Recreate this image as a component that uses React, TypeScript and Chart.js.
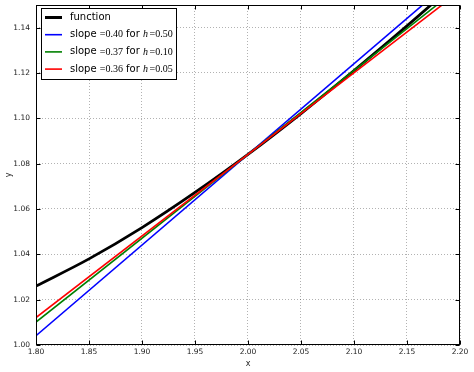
import React, { useEffect, useRef } from "react";
import { Chart, registerables } from "chart.js";

Chart.register(...registerables);

// ---- data ----
const xTicks = [1.8, 1.85, 1.9, 1.95, 2.0, 2.05, 2.1, 2.15, 2.2];
const yTicks = [1.0, 1.02, 1.04, 1.06, 1.08, 1.1, 1.12, 1.14];

const funcX = [1.8, 1.85, 1.9, 1.95, 2.0, 2.05, 2.1, 2.15, 2.2];
const funcY = [1.026, 1.038, 1.0518, 1.0673, 1.0841, 1.1021, 1.1211, 1.1408, 1.1613];

const lineX = [1.8, 2.2];
const blueY = [1.0041, 1.1641];
const greenY = [1.0101, 1.1581];
const redY = [1.0121, 1.1561];

const slopes = ["0.40", "0.37", "0.36"];
const hValues = ["0.50", "0.10", "0.05"];
const lineColors = ["#0000ff", "#008000", "#ff0000"];

const SANS = "'DejaVu Sans', sans-serif";
const SERIF = "'Liberation Serif', serif";

const framePlugin = {
  id: "frameTicks",
  afterDatasetsDraw(chart: any) {
    const { ctx, chartArea: ca, scales } = chart;
    const l = Math.round(ca.left) + 0.5;
    const r = Math.round(ca.right) - 0.5;
    const t = Math.round(ca.top) + 0.5;
    const b = Math.round(ca.bottom) - 0.5;
    ctx.save();
    ctx.strokeStyle = "#000";
    ctx.lineWidth = 1;
    ctx.beginPath();
    xTicks.forEach((v) => {
      const px = Math.round(scales.x.getPixelForValue(v)) + 0.5;
      ctx.moveTo(px, b);
      ctx.lineTo(px, b - 4);
      ctx.moveTo(px, t);
      ctx.lineTo(px, t + 4);
    });
    yTicks.forEach((v) => {
      const py = Math.round(scales.y.getPixelForValue(v)) + 0.5;
      ctx.moveTo(l, py);
      ctx.lineTo(l + 4, py);
      ctx.moveTo(r, py);
      ctx.lineTo(r - 4, py);
    });
    ctx.stroke();
    ctx.strokeRect(l, t, r - l, b - t);
    ctx.restore();
  },
};

const legendPlugin = {
  id: "mathLegend",
  afterDraw(chart: any) {
    const { ctx, chartArea: ca } = chart;
    const boxX = ca.left + 5.5;
    const boxY = ca.top + 3.5;
    const rowStart = ca.top + 12.5;
    const rowStep = 17.2;
    const handleX0 = ca.left + 9;
    const handleX1 = ca.left + 26;
    const textX = ca.left + 34;

    type Seg = { t: string; f: string; gap?: number };
    const rows: { color: string; width: number; segs: Seg[] }[] = [
      { color: "#000", width: 3, segs: [{ t: "function", f: `10px ${SANS}` }] },
    ];
    for (let i = 0; i < slopes.length; i++) {
      rows.push({
        color: lineColors[i],
        width: 1.6,
        segs: [
          { t: "slope ", f: `10px ${SANS}` },
          { t: "=" + slopes[i], f: `10px ${SERIF}` },
          { t: " for ", f: `10px ${SANS}` },
          { t: "h", f: `italic 10px ${SERIF}` },
          { t: "=" + hValues[i], f: `10px ${SERIF}`, gap: 1.5 },
        ],
      });
    }

    ctx.save();
    let maxEnd = 0;
    rows.forEach((row) => {
      let x = textX;
      row.segs.forEach((s) => {
        ctx.font = s.f;
        x += (s.gap || 0) + ctx.measureText(s.t).width;
      });
      maxEnd = Math.max(maxEnd, x);
    });
    const boxW = Math.round(maxEnd + 4 - boxX);
    const boxH = 71;
    ctx.fillStyle = "#fff";
    ctx.fillRect(boxX, boxY, boxW, boxH);
    ctx.strokeStyle = "#000";
    ctx.lineWidth = 1;
    ctx.strokeRect(boxX, boxY, boxW, boxH);

    rows.forEach((row, i) => {
      const y = rowStart + i * rowStep;
      ctx.strokeStyle = row.color;
      ctx.lineWidth = row.width;
      ctx.beginPath();
      ctx.moveTo(handleX0, y);
      ctx.lineTo(handleX1, y);
      ctx.stroke();
      let x = textX;
      ctx.fillStyle = "#000";
      ctx.textBaseline = "middle";
      ctx.textAlign = "left";
      row.segs.forEach((s) => {
        ctx.font = s.f;
        x += s.gap || 0;
        ctx.fillText(s.t, x, y);
        x += ctx.measureText(s.t).width;
      });
    });
    ctx.restore();
  },
};

export default function App() {
  const canvasRef = useRef<HTMLCanvasElement | null>(null);

  useEffect(() => {
    document.body.style.margin = "0";
    const canvas = canvasRef.current;
    if (!canvas) return;

    const lineData = (ys: number[]) => lineX.map((x, i) => ({ x, y: ys[i] }));

    const chart = new Chart(canvas, {
      type: "line",
      data: {
        datasets: [
          {
            label: "function",
            data: funcX.map((x, i) => ({ x, y: funcY[i] })),
            borderColor: "#000",
            borderWidth: 2.8,
            pointRadius: 0,
            cubicInterpolationMode: "monotone",
            clip: 0,
            order: 4,
          },
          {
            label: "h=0.50",
            data: lineData(blueY),
            borderColor: lineColors[0],
            borderWidth: 1.6,
            pointRadius: 0,
            clip: 0,
            order: 3,
          },
          {
            label: "h=0.10",
            data: lineData(greenY),
            borderColor: lineColors[1],
            borderWidth: 1.6,
            pointRadius: 0,
            clip: 0,
            order: 2,
          },
          {
            label: "h=0.05",
            data: lineData(redY),
            borderColor: lineColors[2],
            borderWidth: 1.6,
            pointRadius: 0,
            clip: 0,
            order: 1,
          },
        ],
      } as any,
      options: {
        responsive: false,
        animation: false,
        events: [],
        layout: { padding: { left: 0, top: 5, right: 14, bottom: 0 } },
        plugins: { legend: { display: false }, tooltip: { enabled: false } },
        scales: {
          x: {
            type: "linear",
            min: 1.8,
            max: 2.2,
            afterBuildTicks: (s: any) => {
              s.ticks = xTicks.map((v) => ({ value: v }));
            },
            afterFit: (s: any) => {
              s.height = 27;
            },
            ticks: {
              callback: (v: any) => Number(v).toFixed(2),
              font: { family: SANS, size: 7.5 },
              color: "#222",
              padding: 3,
              maxRotation: 0,
              autoSkip: false,
            },
            grid: { color: "rgba(0,0,0,0.3)", lineWidth: 1, drawTicks: false },
            border: { display: false, dash: [1, 2] },
            title: {
              display: true,
              text: "x",
              font: { family: SANS, size: 8 },
              color: "#222",
              padding: { top: 0, bottom: 3 },
            },
          },
          y: {
            type: "linear",
            min: 1.0,
            max: 1.15,
            afterBuildTicks: (s: any) => {
              s.ticks = yTicks.map((v) => ({ value: v }));
            },
            afterFit: (s: any) => {
              s.width = 36;
              s.paddingTop = 0;
              s.paddingBottom = 0;
            },
            ticks: {
              callback: (v: any) => Number(v).toFixed(2),
              font: { family: SANS, size: 7.5 },
              color: "#222",
              padding: 6,
              autoSkip: false,
            },
            grid: { color: "rgba(0,0,0,0.3)", lineWidth: 1, drawTicks: false },
            border: { display: false, dash: [1, 2] },
            title: {
              display: true,
              text: "y",
              font: { family: SANS, size: 8 },
              color: "#222",
              padding: { top: 4, bottom: 0 },
            },
          },
        },
      } as any,
      plugins: [framePlugin, legendPlugin],
    });

    return () => chart.destroy();
  }, []);

  return (
    <div style={{ width: 474, height: 372 }}>
      <canvas ref={canvasRef} width={474} height={372} />
    </div>
  );
}
